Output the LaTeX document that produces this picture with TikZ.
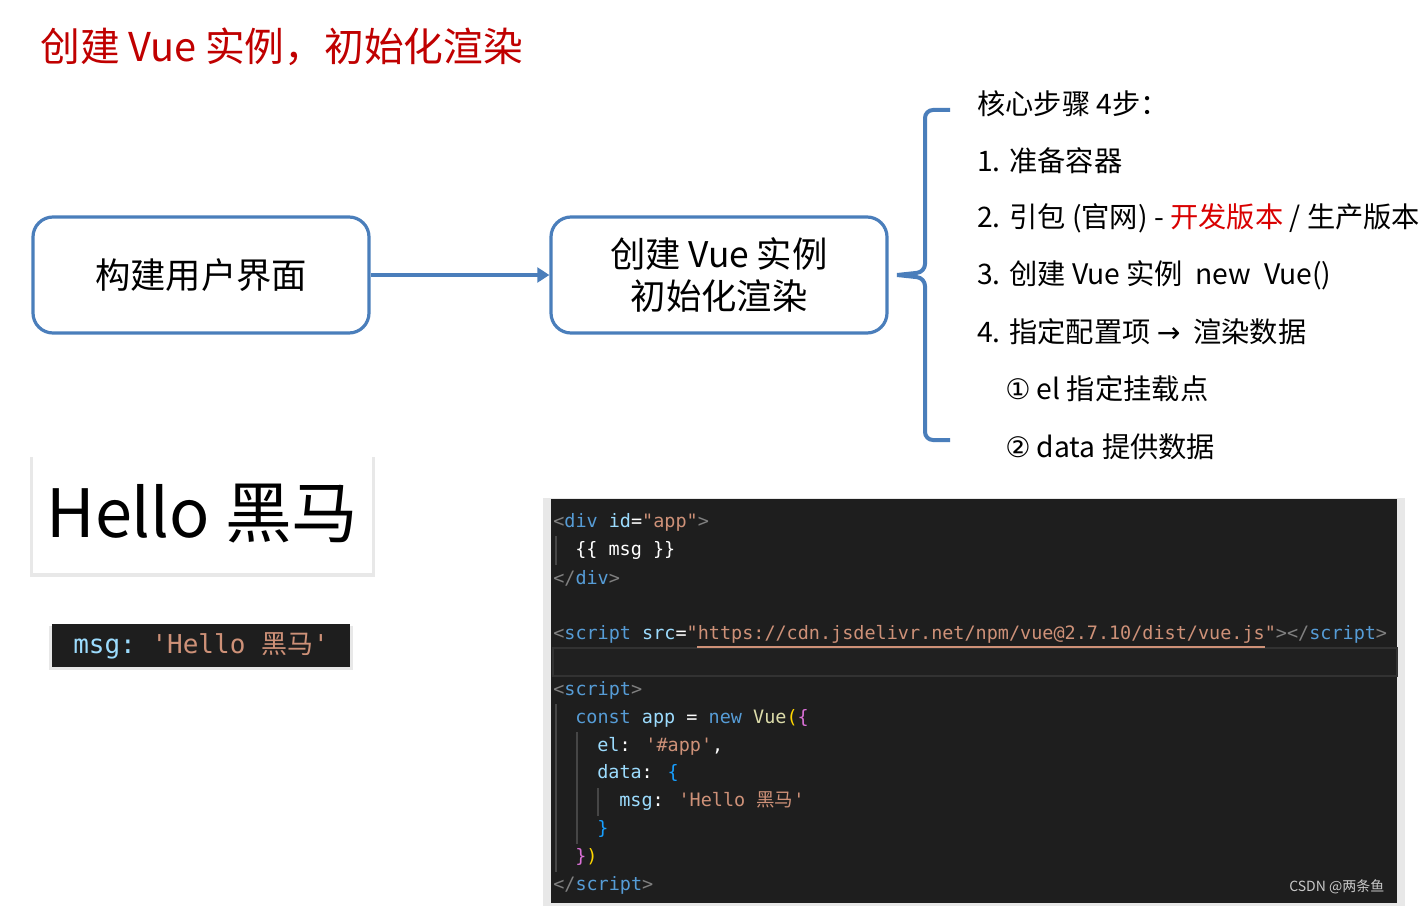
\documentclass[tikz,border=0pt]{standalone}
\usepackage{fontspec}
\setmainfont{Noto Sans CJK SC}
\newfontfamily\cjk{Noto Sans CJK SC}
\newfontfamily\mono{DejaVu Sans Mono}
\usetikzlibrary{shadows,arrows.meta}
\definecolor{bl}{HTML}{4A7EBB}
\definecolor{tg}{HTML}{808080}
\definecolor{tn}{HTML}{569CD6}
\definecolor{at}{HTML}{9CDCFE}
\definecolor{st}{HTML}{CE9178}
\definecolor{yl}{HTML}{DCDCAA}
\definecolor{pu}{HTML}{DA70D6}
\definecolor{br}{HTML}{179FFF}
\definecolor{gd}{HTML}{FFD700}
\definecolor{bg}{HTML}{1E1E1E}
\definecolor{hlf}{HTML}{202020}
\definecolor{hld}{HTML}{323232}
\definecolor{gl}{HTML}{464646}
\definecolor{wmc}{HTML}{C8C8C8}
\definecolor{ttl}{HTML}{C00000}
\begin{document}
\begin{tikzpicture}[x=0.75pt,y=-0.75pt,
  flow/.style={draw=bl,line width=2.4pt,rounded corners=15pt,minimum width=252pt,minimum height=87pt,align=center,font=\fontsize{26.5}{31}\selectfont,inner sep=0pt},
  item/.style={anchor=west,font=\fontsize{21.2}{25}\selectfont,inner sep=0pt},
  code/.style={anchor=west,font=\mono\fontsize{13.85}{16}\selectfont,inner sep=0pt,text=white},
  soft/.style={drop shadow={opacity=0.18,shadow xshift=0pt,shadow yshift=-2pt,shadow scale=1.02}}]
\useasboundingbox (0,0) rectangle (1421,906);
\fill[white] (0,0) rectangle (1421,906);
\node[anchor=west,text=ttl,font=\fontsize{29.8}{34}\selectfont,inner sep=0pt] (title) at (40,47) {创建 Vue 实例，初始化渲染};
\node[flow] (b1) at (201,275) {构建用户界面};
\node[flow] (b2) at (719,275) {创建 Vue 实例\\初始化渲染};
\draw[bl,line width=3pt,-{Triangle[length=9pt,width=11pt]}] (b1) -- (b2);
\coordinate (bk) at (897,275);
\draw[bl,line width=3pt,rounded corners=6pt] (950,110) -- (925,110) -- (925,272) -- (bk);
\draw[bl,line width=3pt,rounded corners=6pt] (950,440) -- (925,440) -- (925,278) -- (bk);
\node[item] (l0) at (977,104) {核心步骤 4步：};
\node[item] (l1) at (977,161) {1. 准备容器};
\node[item] (l2) at (977,218) {2. 引包 (官网) - \textcolor{red!85!black}{开发版本} / 生产版本};
\node[item] (l3) at (977,275) {3. 创建 Vue 实例\ \ new\ \ Vue()};
\node[item] (l4) at (977,332) {4. 指定配置项 {\fontspec{DejaVu Sans}→}\ \ 渲染数据};
\node[item] (l5) at (1005,389) {{\fontspec{DejaVu Sans}①} el 指定挂载点};
\node[item] (l6) at (1005,447) {{\fontspec{DejaVu Sans}②} data 提供数据};
% hello box
\node[fill=white,soft,minimum width=254pt,minimum height=88pt,inner sep=0pt,font=\fontsize{50}{56}\selectfont] (hello) at (202.5,514) {Hello 黑马};
\node[fill=bg,soft,minimum width=223pt,minimum height=32pt,inner sep=0pt,font=\mono\fontsize{19.5}{22}\selectfont] (msg) at (201,645.5) {\textcolor{at}{msg:}\ \textcolor{st}{'Hello {\cjk 黑马}'}};
% code block
\fill[bg,soft] (551,499) rectangle (1397,903);
\draw[hld,fill=hlf,line width=1.5pt] (553,648) rectangle (1397,676);
\draw[gl,line width=0.8pt] (556,536) -- (556,565) (556,704) -- (556,872) (577,732) -- (577,844) (598,788) -- (598,816);
\node[code] (c1) at (553,522) {\textcolor{tg}{<}\textcolor{tn}{div} \textcolor{at}{id}=\textcolor{st}{"app"}\textcolor{tg}{>}};
\node[code] (c2) at (575,550) {\{\{ msg \}\}};
\node[code] (c3) at (553,578) {\textcolor{tg}{</}\textcolor{tn}{div}\textcolor{tg}{>}};
\node[code] (c4) at (553,634) {\textcolor{tg}{<}\textcolor{tn}{script} \textcolor{at}{src}=\textcolor{st}{"https://cdn.jsdelivr.net/npm/vue@2.7.10/dist/vue.js"}\textcolor{tg}{></}\textcolor{tn}{script}\textcolor{tg}{>}};
\draw[st,line width=1pt] (697,647) -- (1265,647);
\node[code] (c5) at (553,690) {\textcolor{tg}{<}\textcolor{tn}{script}\textcolor{tg}{>}};
\node[code] (c6) at (575,718) {\textcolor{tn}{const} \textcolor{at}{app} = \textcolor{tn}{new} \textcolor{yl}{Vue}\textcolor{gd}{(}\textcolor{pu}{\{}};
\node[code] (c7) at (597,746) {\textcolor{at}{el}: \textcolor{st}{'\#app'},};
\node[code] (c8) at (597,773) {\textcolor{at}{data}: \textcolor{br}{\{}};
\node[code] (c9) at (619,801) {\textcolor{at}{msg}: \textcolor{st}{'Hello {\cjk 黑马}'}};
\node[code] (c10) at (597,829) {\textcolor{br}{\}}};
\node[code] (c11) at (575,857) {\textcolor{pu}{\}}\textcolor{gd}{)}};
\node[code] (c12) at (553,885) {\textcolor{tg}{</}\textcolor{tn}{script}\textcolor{tg}{>}};
\node[anchor=west,inner sep=0pt,text=wmc,font=\fontsize{10.5}{12}\selectfont] (wm) at (1289,887) {CSDN @两条鱼};
\end{tikzpicture}
\end{document}
